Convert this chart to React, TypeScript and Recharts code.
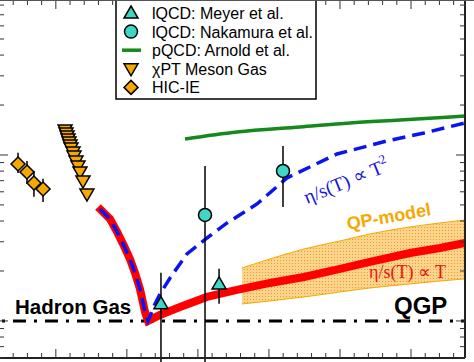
import React from "react";
import { Area, ComposedChart, ErrorBar, Line, ReferenceLine, Scatter, XAxis, YAxis } from "recharts";

// x: T (MeV), y: 4*pi*eta/s (log)
const xTicks = [70, 80, 90, 100, 110, 120, 130, 140, 150, 160, 170, 180, 190, 200, 210, 220, 230, 240, 250, 260, 270, 280, 290, 300, 310, 320, 330, 340, 350, 360, 370, 380];
const yTicks = [0.6, 0.7, 0.8, 0.9, 1, 2, 3, 4, 5, 6, 7, 8, 9, 10, 20, 30, 40, 50, 60, 70, 80];

const hicT = [73.4, 79.7, 84.6, 91.0];
const hicVal = [8.83, 7.9, 6.78, 6.24];
const hicLo = [7.8, 6.7, 5.6, 5.2];
const hicHi = [10.3, 9.2, 8.0, 7.2];

const chptT = [106.5, 107.2, 107.9, 108.6, 109.3, 110.0, 110.7, 112.1, 112.8, 114.2, 115.6, 117.0, 119.1, 121.9];
const chptVal = [14.15, 13.57, 13.02, 12.49, 11.98, 11.49, 11.02, 10.42, 9.86, 9.2, 8.58, 7.9, 6.97, 5.82];

const meyerT = [174.0, 214.9];
const meyerVal = [1.27, 1.67];
const meyerLo = [0.55, 1.27];
const meyerHi = [1.95, 2.06];

const nakaT = [205.0, 259.9];
const nakaVal = [4.35, 8.01];
const nakaLo = [0.55, 4.86];
const nakaHi = [8.58, 11.33];

const redT = [129.7, 138.1, 143.1, 148.0, 152.2, 155.7, 159.2, 162.8, 164.9, 173.3, 187.4, 206.4, 227.5, 250.7, 274.6, 300.0, 321.1, 349.3, 370.4, 388.0];
const redVal = [4.86, 4.12, 3.44, 2.83, 2.36, 1.95, 1.56, 1.13, 1.0, 1.087, 1.214, 1.395, 1.537, 1.694, 1.841, 2.058, 2.267, 2.568, 2.753, 2.951];

const blueT = [131.1, 138.1, 143.1, 148.0, 152.2, 155.7, 159.2, 162.8, 164.9, 169.8, 173.3, 180.4, 192.3, 206.4, 220.5, 241.6, 262.7, 297.9, 333.1, 359.1, 388.0];
const blueVal = [4.73, 4.12, 3.44, 2.83, 2.36, 1.95, 1.56, 1.13, 1.0, 1.266, 1.454, 1.816, 2.533, 3.162, 3.894, 5.07, 7.27, 10.14, 12.15, 13.57, 15.59];

const greenT = [190.9, 227.5, 271.9, 307.1, 342.3, 388.0];
const greenVal = [12.49, 13.76, 14.75, 15.59, 16.25, 17.18];

const bandT = [231.0, 250.7, 274.7, 300.0, 321.1, 349.3, 370.4, 388.0];
const bandLo = [1.266, 1.32, 1.395, 1.495, 1.58, 1.67, 1.742, 1.791];
const bandHi = [2.086, 2.363, 2.715, 3.033, 3.343, 3.684, 3.894, 4.059];

const points = (ts: number[], vals: number[], lo: number[], hi: number[]) =>
  ts.map((T, i) => ({ T, v: vals[i], err: [vals[i] - lo[i], hi[i] - vals[i]] }));
const curve = (ts: number[], vals: number[]) => ts.map((T, i) => ({ T, v: vals[i] }));

const hicData = points(hicT, hicVal, hicLo, hicHi);
const chptData = curve(chptT, chptVal);
const meyerData = points(meyerT, meyerVal, meyerLo, meyerHi);
const nakaData = points(nakaT, nakaVal, nakaLo, nakaHi);
const bandData = bandT.map((T, i) => ({ T, band: [bandLo[i], bandHi[i]] }));

const CYAN = "#3fd6c6";
const ORANGE = "#f6a800";
const SANS = "'Liberation Sans', Arial, sans-serif";
const SERIF = "'Liberation Serif', 'Times New Roman', serif";

const triUp = (cx: number, cy: number, fill: string) => (
  <polygon points={`${cx},${cy - 7} ${cx + 7},${cy + 5} ${cx - 7},${cy + 5}`} fill={fill} stroke="#000" strokeWidth={1.5} />
);
const triDown = (cx: number, cy: number, fill: string) => (
  <polygon points={`${cx - 7},${cy - 5} ${cx + 7},${cy - 5} ${cx},${cy + 7}`} fill={fill} stroke="#000" strokeWidth={1.5} />
);
const diamond = (cx: number, cy: number, fill: string) => (
  <polygon points={`${cx},${cy - 7} ${cx + 7},${cy} ${cx},${cy + 7} ${cx - 7},${cy}`} fill={fill} stroke="#000" strokeWidth={1.5} />
);
const dot = (cx: number, cy: number, fill: string) => <circle cx={cx} cy={cy} r={6.5} fill={fill} stroke="#000" strokeWidth={1.5} />;

const tickMark = (side: "left" | "right" | "top" | "bottom", isMajor: (v: number) => boolean) => (p: any) => {
  const len = isMajor(p.payload.value) ? 9 : 5;
  const { x, y } = p;
  if (side === "left") return <line x1={x} x2={x + len} y1={y} y2={y} stroke="#333" strokeWidth={1} />;
  if (side === "right") return <line x1={x} x2={x - len} y1={y} y2={y} stroke="#333" strokeWidth={1} />;
  if (side === "top") return <line x1={x} x2={x} y1={y} y2={y + len} stroke="#333" strokeWidth={1} />;
  return <line x1={x} x2={x} y1={y} y2={y - len} stroke="#333" strokeWidth={1} />;
};
const xMajor = (v: number) => v % 50 === 0;
const yMajor = (v: number) => v === 1 || v === 10;

const legendRows = [
  { label: "lQCD: Meyer et al.", kind: "meyer" },
  { label: "lQCD: Nakamura et al.", kind: "naka" },
  { label: "pQCD: Arnold et al.", kind: "green" },
  { label: "\u03C7PT Meson Gas", kind: "chpt" },
  { label: "HIC-IE", kind: "hic" },
];

export default function App() {
  const axisLine = { stroke: "#222", strokeWidth: 2 };
  return (
    <div style={{ position: "absolute", left: 0, top: 0, width: 474, height: 362, background: "#fff", overflow: "hidden" }}>
      <svg width={0} height={0} style={{ position: "absolute" }}>
        <defs>
          <pattern id="qpDots" width={3} height={3} patternUnits="userSpaceOnUse">
            <rect width={3} height={3} fill="#fcd48c" />
            <rect width={1} height={1} fill="#e89a2a" />
          </pattern>
        </defs>
      </svg>
      <div style={{ position: "absolute", left: -2, top: -1 }}>
        <ComposedChart width={478} height={364} margin={{ top: 0, right: 10, bottom: 4, left: 0 }}>
          <XAxis xAxisId={0} dataKey="T" type="number" domain={[60, 388]} allowDataOverflow ticks={xTicks} interval={0} height={1} tickSize={0} tickMargin={0} axisLine={axisLine} tickLine={false} tick={tickMark("bottom", xMajor)} />
          <XAxis xAxisId="top" orientation="top" dataKey="T" type="number" domain={[60, 388]} allowDataOverflow ticks={xTicks} interval={0} height={1} tickSize={0} tickMargin={0} axisLine={axisLine} tickLine={false} tick={tickMark("top", xMajor)} />
          <YAxis yAxisId={0} type="number" scale="log" domain={[0.598, 85.9]} allowDataOverflow ticks={yTicks} interval={0} width={1} tickSize={0} tickMargin={0} axisLine={axisLine} tickLine={false} tick={tickMark("left", yMajor)} />
          <YAxis yAxisId="right" orientation="right" type="number" scale="log" domain={[0.598, 85.9]} allowDataOverflow ticks={yTicks} interval={0} width={1} tickSize={0} tickMargin={0} axisLine={axisLine} tickLine={false} tick={tickMark("right", yMajor)} />

          <Area data={bandData} dataKey="band" type="monotone" fill="url(#qpDots)" fillOpacity={1} stroke={ORANGE} strokeWidth={1} isAnimationActive={false} />
          <ReferenceLine y={1} stroke="#000" strokeWidth={3} strokeDasharray="13 8 3 8" strokeDashoffset={18} />
          <Line data={curve(greenT, greenVal)} dataKey="v" type="monotone" stroke="#15891c" strokeWidth={3.5} dot={false} isAnimationActive={false} />
          <Line data={curve(redT, redVal)} dataKey="v" type="linear" stroke="#ff0000" strokeWidth={8} strokeLinejoin="miter" dot={false} isAnimationActive={false} />
          <Line data={curve(blueT, blueVal)} dataKey="v" type="linear" stroke="#0a14f0" strokeWidth={3.5} strokeDasharray="13 7" dot={false} isAnimationActive={false} />

          <Scatter data={hicData} dataKey="v" isAnimationActive={false} shape={(p: any) => diamond(p.cx, p.cy, ORANGE)}>
            <ErrorBar dataKey="err" direction="y" width={0} stroke="#000" strokeWidth={1.5} />
          </Scatter>
          <Scatter data={chptData} dataKey="v" isAnimationActive={false} shape={(p: any) => triDown(p.cx, p.cy, ORANGE)} />
          <Scatter data={meyerData} dataKey="v" isAnimationActive={false} shape={(p: any) => triUp(p.cx, p.cy, CYAN)}>
            <ErrorBar dataKey="err" direction="y" width={0} stroke="#000" strokeWidth={1.5} />
          </Scatter>
          <Scatter data={nakaData} dataKey="v" isAnimationActive={false} shape={(p: any) => dot(p.cx, p.cy, CYAN)}>
            <ErrorBar dataKey="err" direction="y" width={0} stroke="#000" strokeWidth={1.5} />
          </Scatter>
        </ComposedChart>
      </div>

      <svg width={474} height={362} style={{ position: "absolute", left: 0, top: 0, pointerEvents: "none" }}>
        <g fontFamily={SANS}>
          <text x={15} y={314} fontSize={20.5} fontWeight="bold" fill="#000">Hadron Gas</text>
          <text x={394} y={314} fontSize={24} fontWeight="bold" fill="#000">QGP</text>
          <text x={348} y={230} fontSize={18} fontWeight="bold" fill={ORANGE} transform="rotate(-10 348 230)">QP-model</text>
        </g>
        <g fontFamily={SERIF}>
          <text x={369} y={278} fontSize={18} fill="#ee1111">{"\u03B7/s(T) \u221D T"}</text>
          <text x={307} y={204} fontSize={19.5} fill="#1414e6" transform="rotate(-22 307 204)">
            {"\u03B7/s(T) \u221D T"}
            <tspan dy={-9} fontSize={13}>2</tspan>
          </text>
        </g>

        <rect x={116} y={-1} width={200} height={100} fill="#fff" stroke="#000" strokeWidth={1.5} />
        {legendRows.map((row, i) => {
          const cy = 13 + i * 18.6;
          const cx = 131;
          let sym: React.ReactNode = null;
          if (row.kind === "meyer") sym = triUp(cx, cy, CYAN);
          if (row.kind === "naka") sym = dot(cx, cy, CYAN);
          if (row.kind === "green") sym = <line x1={122} x2={141} y1={cy} y2={cy} stroke="#15891c" strokeWidth={3.5} />;
          if (row.kind === "chpt") sym = triDown(cx, cy, ORANGE);
          if (row.kind === "hic") sym = diamond(cx, cy, ORANGE);
          return (
            <g key={row.kind}>
              {sym}
              <text x={152} y={cy + 6} fontFamily={SANS} fontSize={16} fill="#000">{row.label}</text>
            </g>
          );
        })}
        <line x1={0} x2={474} y1={0} y2={0} stroke="#555" strokeWidth={2} />
      </svg>
    </div>
  );
}
